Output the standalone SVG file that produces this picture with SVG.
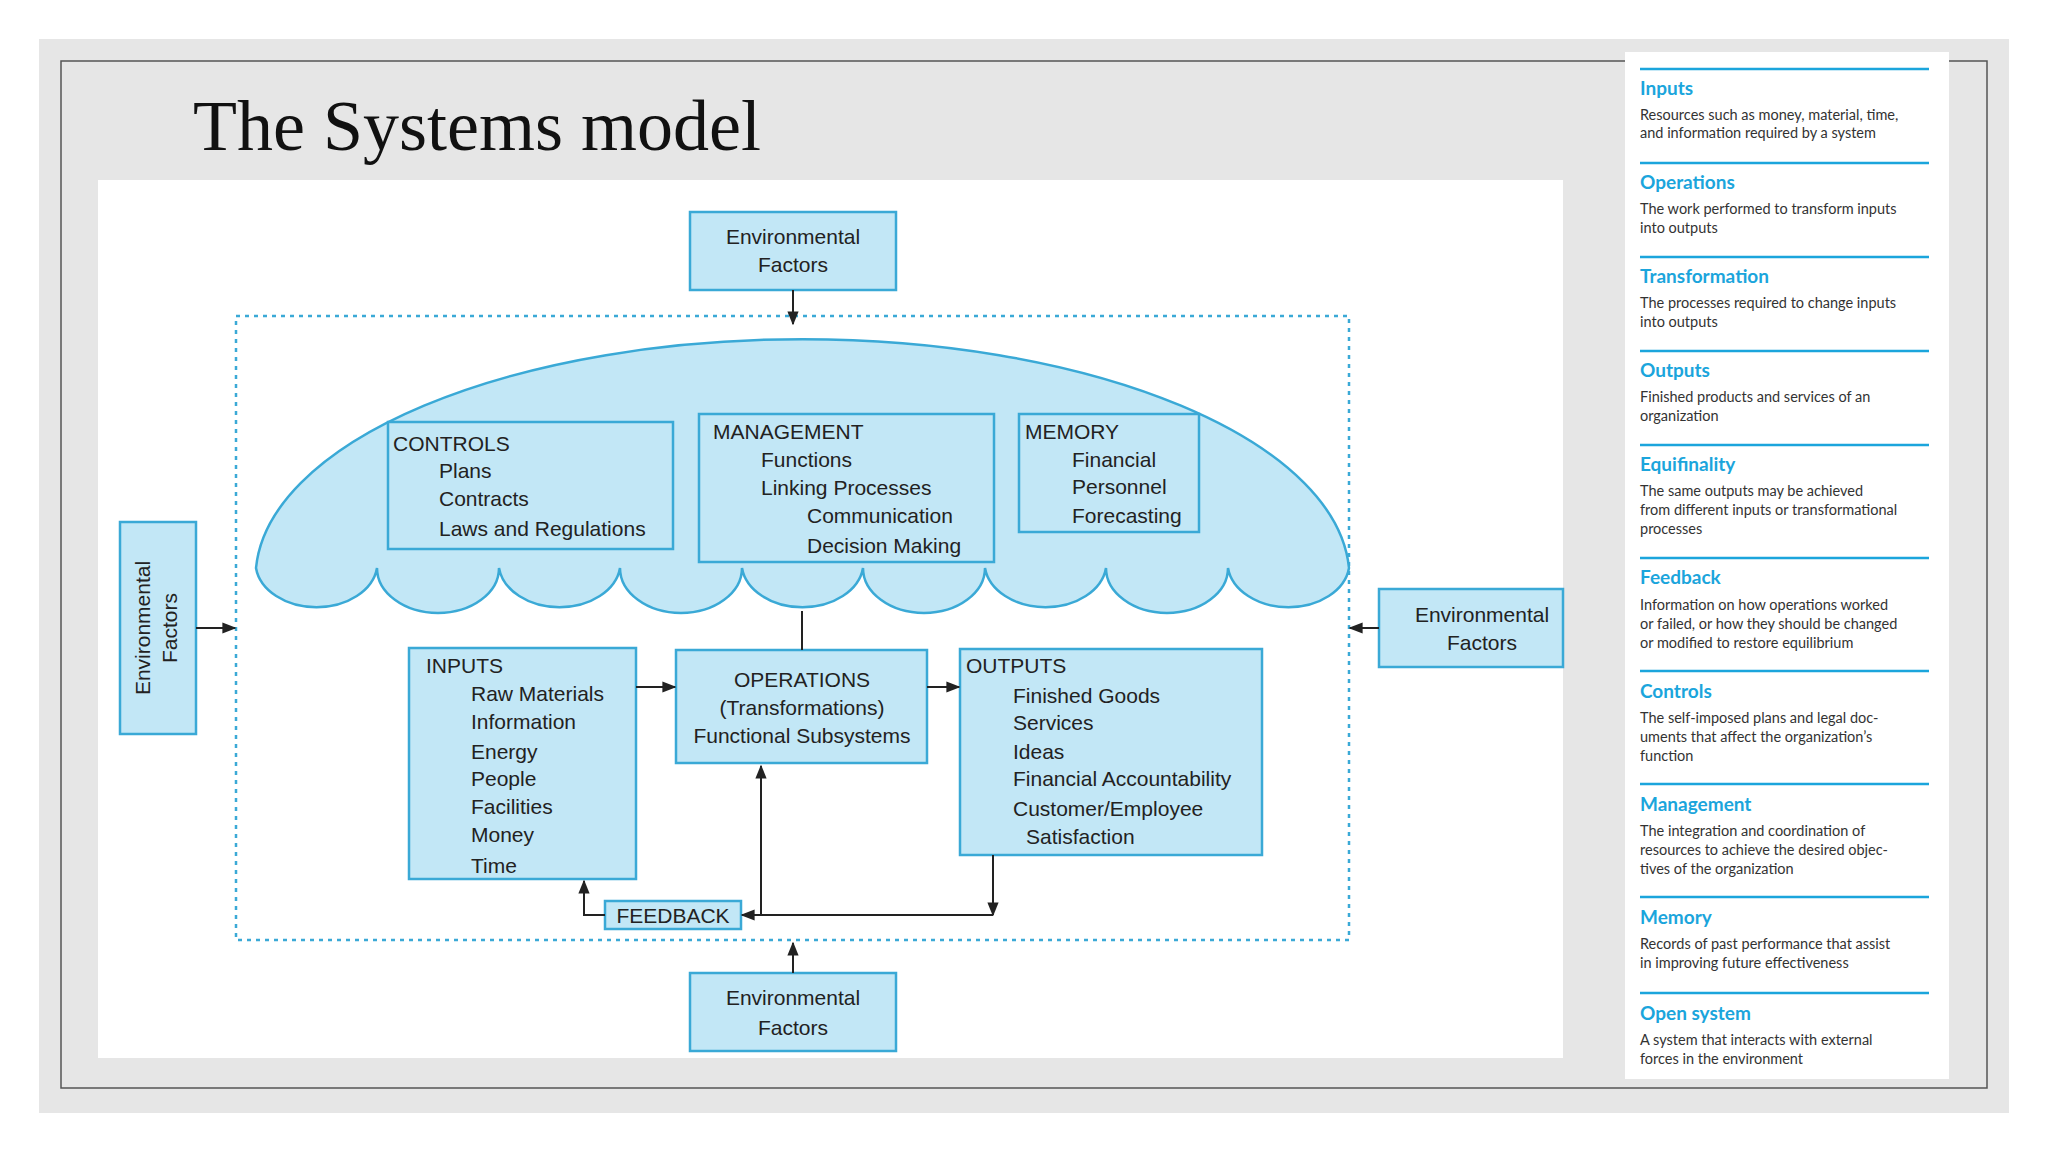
<svg xmlns="http://www.w3.org/2000/svg" width="2048" height="1152" viewBox="0 0 2048 1152">
<defs>
<marker id="ah" viewBox="0 0 10 10" refX="9" refY="5" markerWidth="7" markerHeight="7" orient="auto"><path d="M0,1 L10,5 L0,9 z" fill="#222"/></marker>
<style>
.box{fill:#c2e7f6;stroke:#3aa9d6;stroke-width:2.5}
.t{font-family:"Liberation Sans",Arial,sans-serif;font-size:21px;fill:#222}
.c{text-anchor:middle}
.ln{stroke:#222;stroke-width:2;fill:none}
.h{font-family:Lato,"Open Sans",sans-serif;font-size:19px;font-weight:bold;fill:#1ba5dc}
.b{font-family:Lato,"Open Sans",sans-serif;font-size:14.5px;fill:#333}
.sep{stroke:#1ba5dc;stroke-width:2.5}
</style>
</defs>
<rect width="2048" height="1152" fill="#fff"/>
<rect x="39" y="39" width="1970" height="1074" fill="#e6e6e6"/>
<rect x="61" y="61" width="1926" height="1027" fill="none" stroke="#555" stroke-width="1.5"/>
<text x="193" y="150" font-family="Liberation Serif,serif" font-size="72" fill="#111">The Systems model</text>
<rect x="98" y="180" width="1465" height="878" fill="#fff"/>

<g id="panel">
<rect x="1625" y="52" width="324" height="1027" fill="#fff"/>
<g>
<line class="sep" x1="1640" y1="69" x2="1929" y2="69"/><line class="sep" x1="1640" y1="163" x2="1929" y2="163"/><line class="sep" x1="1640" y1="257" x2="1929" y2="257"/><line class="sep" x1="1640" y1="351" x2="1929" y2="351"/><line class="sep" x1="1640" y1="445" x2="1929" y2="445"/><line class="sep" x1="1640" y1="558" x2="1929" y2="558"/><line class="sep" x1="1640" y1="671" x2="1929" y2="671"/><line class="sep" x1="1640" y1="784" x2="1929" y2="784"/><line class="sep" x1="1640" y1="897" x2="1929" y2="897"/><line class="sep" x1="1640" y1="993" x2="1929" y2="993"/>
</g>
<text class="h" x="1640" y="95">Inputs</text>
<text class="b" x="1640" y="120">Resources such as money, material, time,</text><text class="b" x="1640" y="138">and information required by a system</text>
<text class="h" x="1640" y="189">Operations</text>
<text class="b" x="1640" y="214">The work performed to transform inputs</text><text class="b" x="1640" y="233">into outputs</text>
<text class="h" x="1640" y="283">Transformation</text>
<text class="b" x="1640" y="308">The processes required to change inputs</text><text class="b" x="1640" y="327">into outputs</text>
<text class="h" x="1640" y="377">Outputs</text>
<text class="b" x="1640" y="402">Finished products and services of an</text><text class="b" x="1640" y="421">organization</text>
<text class="h" x="1640" y="471">Equifinality</text>
<text class="b" x="1640" y="496">The same outputs may be achieved</text><text class="b" x="1640" y="515">from different inputs or transformational</text><text class="b" x="1640" y="534">processes</text>
<text class="h" x="1640" y="584">Feedback</text>
<text class="b" x="1640" y="610">Information on how operations worked</text><text class="b" x="1640" y="629">or failed, or how they should be changed</text><text class="b" x="1640" y="648">or modified to restore equilibrium</text>
<text class="h" x="1640" y="698">Controls</text>
<text class="b" x="1640" y="723">The self-imposed plans and legal doc-</text><text class="b" x="1640" y="742">uments that affect the organization’s</text><text class="b" x="1640" y="761">function</text>
<text class="h" x="1640" y="811">Management</text>
<text class="b" x="1640" y="836">The integration and coordination of</text><text class="b" x="1640" y="855">resources to achieve the desired objec-</text><text class="b" x="1640" y="874">tives of the organization</text>
<text class="h" x="1640" y="924">Memory</text>
<text class="b" x="1640" y="949">Records of past performance that assist</text><text class="b" x="1640" y="968">in improving future effectiveness</text>
<text class="h" x="1640" y="1020">Open system</text>
<text class="b" x="1640" y="1045">A system that interacts with external</text><text class="b" x="1640" y="1064">forces in the environment</text>
</g>

<g id="system-boundary"><rect x="236" y="316" width="1113" height="624" fill="none" stroke="#3aa9d6" stroke-width="2.5" stroke-dasharray="4 5"/></g>

<g id="cloud"><path class="box" d="M256,568 A547,239 0 0 1 1349,568 A61,45 0 0 1 1228,568 A61,45 0 0 1 1106,568 A61,45 0 0 1 985,568 A61,45 0 0 1 863,568 A61,45 0 0 1 742,568 A61,45 0 0 1 620,568 A61,45 0 0 1 499,568 A61,45 0 0 1 377,568 A61,45 0 0 1 256,568 Z"/></g>

<g id="controls"><rect class="box" x="388" y="422" width="285" height="127"/>
<text class="t" x="393" y="451">CONTROLS</text><text class="t" x="439" y="478">Plans</text><text class="t" x="439" y="506">Contracts</text><text class="t" x="439" y="536">Laws and Regulations</text></g>
<g id="management"><rect class="box" x="699" y="414" width="295" height="148"/>
<text class="t" x="713" y="439">MANAGEMENT</text><text class="t" x="761" y="467">Functions</text><text class="t" x="761" y="495">Linking Processes</text><text class="t" x="807" y="523">Communication</text><text class="t" x="807" y="553">Decision Making</text></g>
<g id="memory"><rect class="box" x="1019" y="414" width="180" height="118"/>
<text class="t" x="1025" y="439">MEMORY</text><text class="t" x="1072" y="467">Financial</text><text class="t" x="1072" y="494">Personnel</text><text class="t" x="1072" y="523">Forecasting</text></g>

<g id="env-top"><rect class="box" x="690" y="212" width="206" height="78"/><text class="t c" x="793" y="244">Environmental</text><text class="t c" x="793" y="272">Factors</text></g>
<g id="env-bottom"><rect class="box" x="690" y="973" width="206" height="78"/><text class="t c" x="793" y="1005">Environmental</text><text class="t c" x="793" y="1035">Factors</text></g>
<g id="env-left"><rect class="box" x="120" y="522" width="76" height="212"/><text class="t c" transform="translate(150,628) rotate(-90)">Environmental</text><text class="t c" transform="translate(177,628) rotate(-90)">Factors</text></g>
<g id="env-right"><rect class="box" x="1379" y="589" width="184" height="78"/><text class="t c" x="1482" y="622">Environmental</text><text class="t c" x="1482" y="650">Factors</text></g>

<g id="inputs"><rect class="box" x="409" y="648" width="227" height="231"/>
<text class="t" x="426" y="673">INPUTS</text><text class="t" x="471" y="701">Raw Materials</text><text class="t" x="471" y="729">Information</text><text class="t" x="471" y="759">Energy</text><text class="t" x="471" y="786">People</text><text class="t" x="471" y="814">Facilities</text><text class="t" x="471" y="842">Money</text><text class="t" x="471" y="873">Time</text></g>
<g id="operations"><rect class="box" x="676" y="650" width="251" height="113"/>
<text class="t c" x="802" y="687">OPERATIONS</text><text class="t c" x="802" y="715">(Transformations)</text><text class="t c" x="802" y="743">Functional Subsystems</text></g>
<g id="outputs"><rect class="box" x="960" y="649" width="302" height="206"/>
<text class="t" x="966" y="673">OUTPUTS</text><text class="t" x="1013" y="703">Finished Goods</text><text class="t" x="1013" y="730">Services</text><text class="t" x="1013" y="759">Ideas</text><text class="t" x="1013" y="786">Financial Accountability</text><text class="t" x="1013" y="816">Customer/Employee</text><text class="t" x="1026" y="844">Satisfaction</text></g>
<g id="feedback"><rect class="box" x="605" y="901" width="136" height="28"/><text class="t c" x="673" y="923">FEEDBACK</text></g>

<g id="connectors">
<line class="ln" x1="793" y1="290" x2="793" y2="324" marker-end="url(#ah)"/>
<line class="ln" x1="793" y1="973" x2="793" y2="943" marker-end="url(#ah)"/>
<line class="ln" x1="196" y1="628" x2="235" y2="628" marker-end="url(#ah)"/>
<line class="ln" x1="1379" y1="628" x2="1350" y2="628" marker-end="url(#ah)"/>
<line class="ln" x1="802" y1="611" x2="802" y2="650"/>
<line class="ln" x1="636" y1="687" x2="675" y2="687" marker-end="url(#ah)"/>
<line class="ln" x1="927" y1="687" x2="959" y2="687" marker-end="url(#ah)"/>
<polyline class="ln" points="993,855 993,915" marker-end="url(#ah)"/>
<polyline class="ln" points="993,915 742,915" marker-end="url(#ah)"/>
<line class="ln" x1="761" y1="915" x2="761" y2="766" marker-end="url(#ah)"/>
<polyline class="ln" points="605,915 584,915 584,881" marker-end="url(#ah)"/>
</g>
</svg>
